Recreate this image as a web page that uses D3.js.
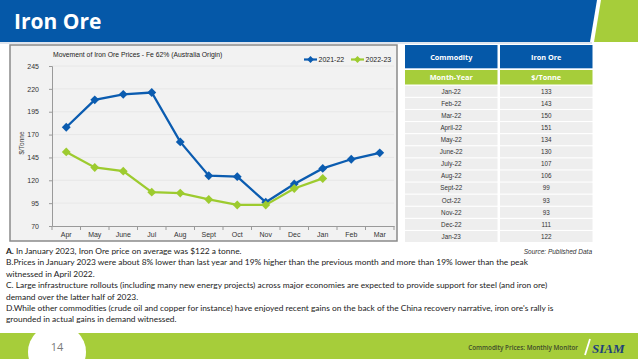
<!DOCTYPE html>
<html><head><meta charset="utf-8">
<script src="https://cdn.jsdelivr.net/npm/d3@7"></script>
<style>body{margin:0;background:#fff}svg{display:block}</style>
</head><body>
<script>
const months = ["Apr","May","June","Jul","Aug","Sept","Oct","Nov","Dec","Jan","Feb","Mar"];
const series2122 = [178,208,214,216,162,125,124,96,116,133,143,150];
const series2223 = [151,134,130,107,106,99,93,93,111,122];
const seriesNames = ["2021-22","2022-23"];
const yTicks = [70,95,120,145,170,195,220,245];
const tableMonths = ["Jan-22","Feb-22","Mar-22","April-22","May-22","June-22","July-22","Aug-22","Sept-22","Oct-22","Nov-22","Dec-22","Jan-23"];
const tableValues = [133,143,150,151,134,130,107,106,99,93,93,111,122];
const notes = [
  ["A.", " In January 2023, Iron Ore price on average was $122 a tonne."],
  ["", "B.Prices in January 2023 were about 8% lower than last year and 19% higher than the previous month and more than 19% lower than the peak"],
  ["", "witnessed in April 2022."],
  ["", "C. Large infrastructure rollouts (including many new energy projects) across major economies are expected to provide support for steel (and iron ore)"],
  ["", "demand over the latter half of 2023."],
  ["", "D.While other commodities (crude oil and copper for instance) have enjoyed recent gains on the back of the China recovery narrative, iron ore's rally is"],
  ["", "grounded in actual gains in demand witnessed."]
];

const BLUE = "#0558A8", GREEN = "#A6CD3A", LBLUE = "#0B5CB0", LGREEN = "#9DCB2F";
const W = 638, H = 359;
const svg = d3.select("body").append("svg").attr("width", W).attr("height", H);

// Header
svg.append("polygon").attr("points", "0,0 597,0 590,42 0,42").attr("fill", BLUE);
svg.append("polygon").attr("points", "601,0 638,0 638,42 594,42").attr("fill", GREEN);
svg.append("rect").attr("x",0).attr("y",42).attr("width",592).attr("height",2).attr("fill","#dfe5ee");
svg.append("text").attr("x", 14).attr("y", 29).text("Iron Ore")
  .attr("font-family","'Open Sans', sans-serif").attr("font-weight","bold").attr("font-size",21).attr("fill","#fff");

// Chart box
svg.append("rect").attr("x",10).attr("y",45).attr("width",387).attr("height",196)
  .attr("fill","#f2f2f2").attr("stroke","#8a8a8a").attr("stroke-width",1.5);

const x = d3.scaleBand().domain(months).range([52, 394]);
const y = d3.scaleLinear().domain([70, 245]).range([226, 66]);
const cx = m => x(m) + x.bandwidth()/2;

// gridlines
svg.append("g").selectAll("line").data(yTicks.slice(1)).join("line")
  .attr("x1",52).attr("x2",394).attr("y1",d=>y(d)).attr("y2",d=>y(d))
  .attr("stroke","#e4e4e4").attr("stroke-width",0.8);

const fontSm = "'Liberation Sans', Arial, sans-serif";
const yAxis = svg.append("g").attr("transform","translate(52,0)")
  .call(d3.axisLeft(y).tickValues(yTicks).tickSize(3).tickPadding(10));
yAxis.select(".domain").attr("stroke","#9a9a9a");
yAxis.selectAll(".tick line").attr("stroke","#9a9a9a");
yAxis.selectAll("text").attr("font-family",fontSm).attr("font-size",7).attr("fill","#333");

const xAxis = svg.append("g").attr("transform","translate(0,226)")
  .call(d3.axisBottom(x).tickSize(0).tickPadding(6.5));
xAxis.select(".domain").attr("stroke","#9a9a9a");
xAxis.selectAll("text").attr("font-family",fontSm).attr("font-size",7).attr("fill","#333");
svg.append("g").selectAll("line").data(months.concat(["_end"])).join("line")
  .attr("x1",(d,i)=>52 + i*x.step()).attr("x2",(d,i)=>52 + i*x.step())
  .attr("y1",226).attr("y2",230).attr("stroke","#9a9a9a");

svg.append("text").attr("transform","translate(24,143) rotate(-90)").attr("text-anchor","middle")
  .attr("font-family",fontSm).attr("font-size",6.5).attr("fill","#444").text("$/Tonne");
svg.append("text").attr("x",53).attr("y",57).attr("font-family",fontSm).attr("font-size",6.8).attr("fill","#222")
  .text("Movement of Iron Ore Prices - Fe 62% (Australia Origin)");

const line = d3.line().x((d,i)=>cx(months[i])).y(d=>y(d));
const diamond = d3.symbol().type(d3.symbolDiamond2).size(50);
function drawSeries(vals, color) {
  svg.append("path").datum(vals).attr("d", line).attr("fill","none").attr("stroke",color).attr("stroke-width",2.3);
  svg.append("g").selectAll("path").data(vals).join("path")
    .attr("d", diamond).attr("transform",(d,i)=>`translate(${cx(months[i])},${y(d)})`).attr("fill",color);
}
drawSeries(series2122, LBLUE);
drawSeries(series2223, LGREEN);

// legend
const legend = [[seriesNames[0], LBLUE, 304], [seriesNames[1], LGREEN, 351]];
legend.forEach(([name,color,lx])=>{
  svg.append("line").attr("x1",lx).attr("x2",lx+13).attr("y1",59.5).attr("y2",59.5).attr("stroke",color).attr("stroke-width",2.2);
  svg.append("path").attr("d", d3.symbol().type(d3.symbolDiamond2).size(30)).attr("transform",`translate(${lx+6.5},59.5)`).attr("fill",color);
  svg.append("text").attr("x",lx+14.5).attr("y",62).attr("font-family",fontSm).attr("font-size",7).attr("fill","#222").text(name);
});

// Table
const c1 = 405, c2 = 500, cw1 = 92.5, cw2 = 92.5;
const fontT = "'Open Sans', sans-serif";
svg.append("rect").attr("x",c1).attr("y",45).attr("width",cw1).attr("height",23.3).attr("fill",BLUE);
svg.append("rect").attr("x",c2).attr("y",45).attr("width",cw2).attr("height",23.3).attr("fill",BLUE);
svg.append("rect").attr("x",c1).attr("y",70).attr("width",cw1).attr("height",14.5).attr("fill",GREEN);
svg.append("rect").attr("x",c2).attr("y",70).attr("width",cw2).attr("height",14.5).attr("fill",GREEN);
[["Commodity",c1+cw1/2,59.5],["Iron Ore",c2+cw2/2,59.5],["Month-Year",c1+cw1/2,79.8],["$/Tonne",c2+cw2/2,79.8]].forEach(([t,tx,ty])=>{
  svg.append("text").attr("x",tx).attr("y",ty).attr("text-anchor","middle").attr("font-family",fontT)
    .attr("font-weight","bold").attr("font-size",7.3).attr("fill","#fff").text(t);
});
const rowY = i => 85.8 + i*12.1;
const rows = svg.append("g").selectAll("g").data(tableMonths).join("g");
rows.append("rect").attr("x",c1).attr("y",(d,i)=>rowY(i)).attr("width",cw1).attr("height",11).attr("fill","#eeeeee");
rows.append("rect").attr("x",c2).attr("y",(d,i)=>rowY(i)).attr("width",cw2).attr("height",11).attr("fill","#eeeeee");
rows.append("text").attr("x",c1+cw1/2).attr("y",(d,i)=>rowY(i)+7.8).attr("text-anchor","middle")
  .attr("font-family",fontSm).attr("font-size",6.3).attr("fill","#333").text(d=>d);
rows.append("text").attr("x",c2+cw2/2).attr("y",(d,i)=>rowY(i)+7.8).attr("text-anchor","middle")
  .attr("font-family",fontSm).attr("font-size",6.3).attr("fill","#333").text((d,i)=>tableValues[i]);
svg.append("text").attr("x",592).attr("y",254).attr("text-anchor","end").attr("font-family",fontSm)
  .attr("font-style","italic").attr("font-size",6.5).attr("fill","#333").text("Source: Published Data");

// Notes
notes.forEach(([b,t],i)=>{
  const tx = svg.append("text").attr("x",6).attr("y",254 + i*11.4).attr("font-family","Lato, sans-serif")
    .attr("font-size",8.4).attr("fill","#222");
  if (b) tx.append("tspan").attr("font-weight","bold").text(b);
  tx.append("tspan").text(t);
});

// Footer
svg.append("rect").attr("x",0).attr("y",333).attr("width",W).attr("height",26).attr("fill",GREEN);
svg.append("ellipse").attr("cx",57).attr("cy",352).attr("rx",29).attr("ry",28).attr("fill","#fff");
svg.append("text").attr("x",57).attr("y",351).attr("text-anchor","middle").attr("font-family",fontT)
  .attr("font-size",11).attr("fill","#7a7a7a").text("14");
svg.append("text").attr("x",578).attr("y",350).attr("text-anchor","end").attr("font-family",fontT)
  .attr("font-size",6.3).attr("font-weight","600").attr("fill","#3d4a2a").text("Commodity Prices: Monthly Monitor");
svg.append("line").attr("x1",585).attr("y1",355).attr("x2",590).attr("y2",339).attr("stroke","#fff").attr("stroke-width",1.8);
svg.append("text").attr("x",592).attr("y",353).attr("font-family","'Liberation Serif', serif").attr("font-style","italic")
  .attr("font-weight","bold").attr("font-size",13).attr("fill","#1f3f7a").text("SIAM");
</script>
</body></html>
